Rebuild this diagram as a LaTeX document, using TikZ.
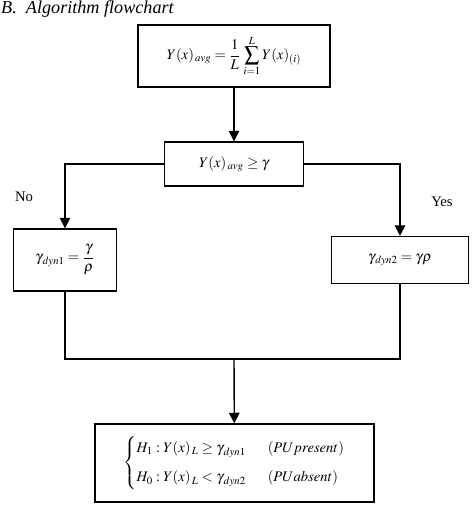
\documentclass[tikz,border=0pt]{standalone}
\usepackage{amsmath}
\usepackage{mathptmx}
\usepackage{fontspec}
\setmainfont{Liberation Serif}
\usepackage{tikz}
\usetikzlibrary{positioning}
\usetikzlibrary{backgrounds}
\usetikzlibrary{arrows.meta}

\tikzset{
	flowbox/.style = {fill = white, draw, rectangle, line width = 1.2pt, font = \fontsize{12.5}{15}\selectfont},
	flowline/.style = {black, line width = 1.2pt},
	flowarrow/.style = {flowline, -{Triangle[width = 9pt, length = 9pt]}}
}

\begin{document}
\begin{tikzpicture}[x = 0.03cm, y = -0.03cm]
		\useasboundingbox (0,0) rectangle (474,509);

		\node[anchor = north west, inner sep = 0pt, font = \fontsize{15.5}{18}\selectfont\itshape] at (1,0) (title)
		{B.\ \ Algorithm flowchart};

		\node[flowbox, minimum width = 5.76cm, minimum height = 1.86cm] at (234,56) (avg)
		{$\displaystyle Y(x)_{\,avg} = \frac{1}{L}\,\sum_{i=1}^{L} Y(x)_{(i)}$};
		\node[flowbox, minimum width = 4.17cm, minimum height = 1.32cm] at (234,164) (test)
		{$Y(x)_{\,avg} \geq \gamma$};
		\node[flowbox, minimum width = 3.09cm, minimum height = 1.86cm] at (65,260) (dyn1)
		{$\gamma_{\,dyn1} = \dfrac{\gamma}{\rho}$};
		\node[flowbox, minimum width = 4.11cm, minimum height = 1.41cm] at (400,260) (dyn2)
		{$\gamma_{\,dyn2} = \gamma\rho$};
		\node[flowbox, minimum width = 8.37cm, minimum height = 2.34cm] at (234.5,463) (dec)
		{$\begin{cases} H_1 : Y(x)_{\,L} \geq \gamma_{\,dyn1} & \enspace (PUpresent)\\[7pt] H_0 : Y(x)_{\,L} < \gamma_{\,dyn2} & \enspace (PUabsent) \end{cases}$};

		\node[font = \fontsize{12.5}{15}\selectfont] at (24,197) (no) {No};
		\node[font = \fontsize{12.5}{15}\selectfont] at (442,202) (yes) {Yes};

		\coordinate (join) at (234,359);

		\begin{scope}[on background layer]
			\draw[flowarrow] (avg) to (test);
			\draw[flowarrow] (test.west) -| (dyn1.north);
			\draw[flowarrow] (test.east) -| (dyn2.north);
			\draw[flowline] (dyn1.south) |- (join) -| (dyn2.south);
			\draw[flowarrow] (join) to (dec);
		\end{scope}
	\end{tikzpicture}
\end{document}
